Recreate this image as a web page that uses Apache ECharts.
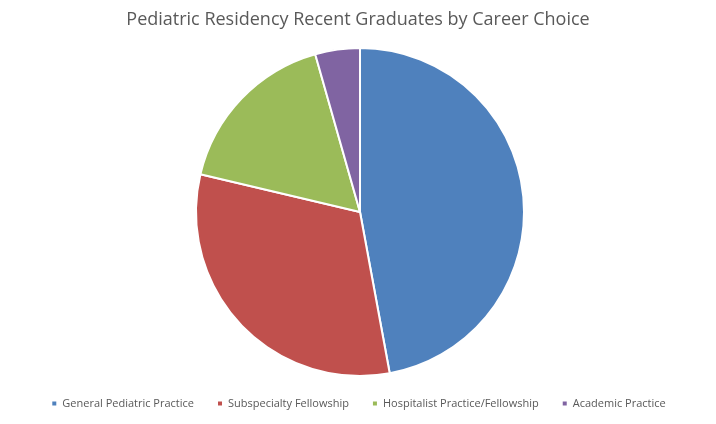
<!DOCTYPE html>
<html lang="en">
<head>
    <meta charset="UTF-8">
    <title>Pediatric Residency Recent Graduates by Career Choice</title>
    <style>
        html, body { margin: 0; padding: 0; background: #fff; }
        #main { width: 716px; height: 424px; }
    </style>
</head>
<body>
    <div id="main"></div>
    <script src="https://cdn.jsdelivr.net/npm/echarts@6/dist/echarts.min.js"></script>
    <script>
        var categories = ['General Pediatric Practice', 'Subspecialty Fellowship', 'Hospitalist Practice/Fellowship', 'Academic Practice'];
        var values = [47.1, 31.6, 16.9, 4.4];
        var colors = ['#4f81bd', '#c0504d', '#9bbb59', '#8064a2'];

        var myChart = echarts.init(document.getElementById('main'));
        var option = {
            title: {
                text: 'Pediatric Residency Recent Graduates by Career Choice',
                left: 'center',
                top: 6,
                textStyle: { fontFamily: 'Open Sans', fontWeight: 'normal', fontSize: 18, color: '#595959' }
            },
            legend: {
                data: categories,
                bottom: 10,
                left: 'center',
                icon: 'rect',
                itemWidth: 6,
                itemHeight: 6,
                itemGap: 22,
                textStyle: { fontFamily: 'Open Sans', fontSize: 11, color: '#595959' }
            },
            color: colors,
            series: [{
                type: 'pie',
                center: [360, 212],
                radius: 164,
                startAngle: 90,
                clockwise: true,
                label: { show: false },
                labelLine: { show: false },
                itemStyle: { borderColor: '#fff', borderWidth: 2 },
                emphasis: { disabled: true },
                data: categories.map(function (c, i) { return { name: c, value: values[i] }; })
            }]
        };
        myChart.setOption(option);
    </script>
</body>
</html>
